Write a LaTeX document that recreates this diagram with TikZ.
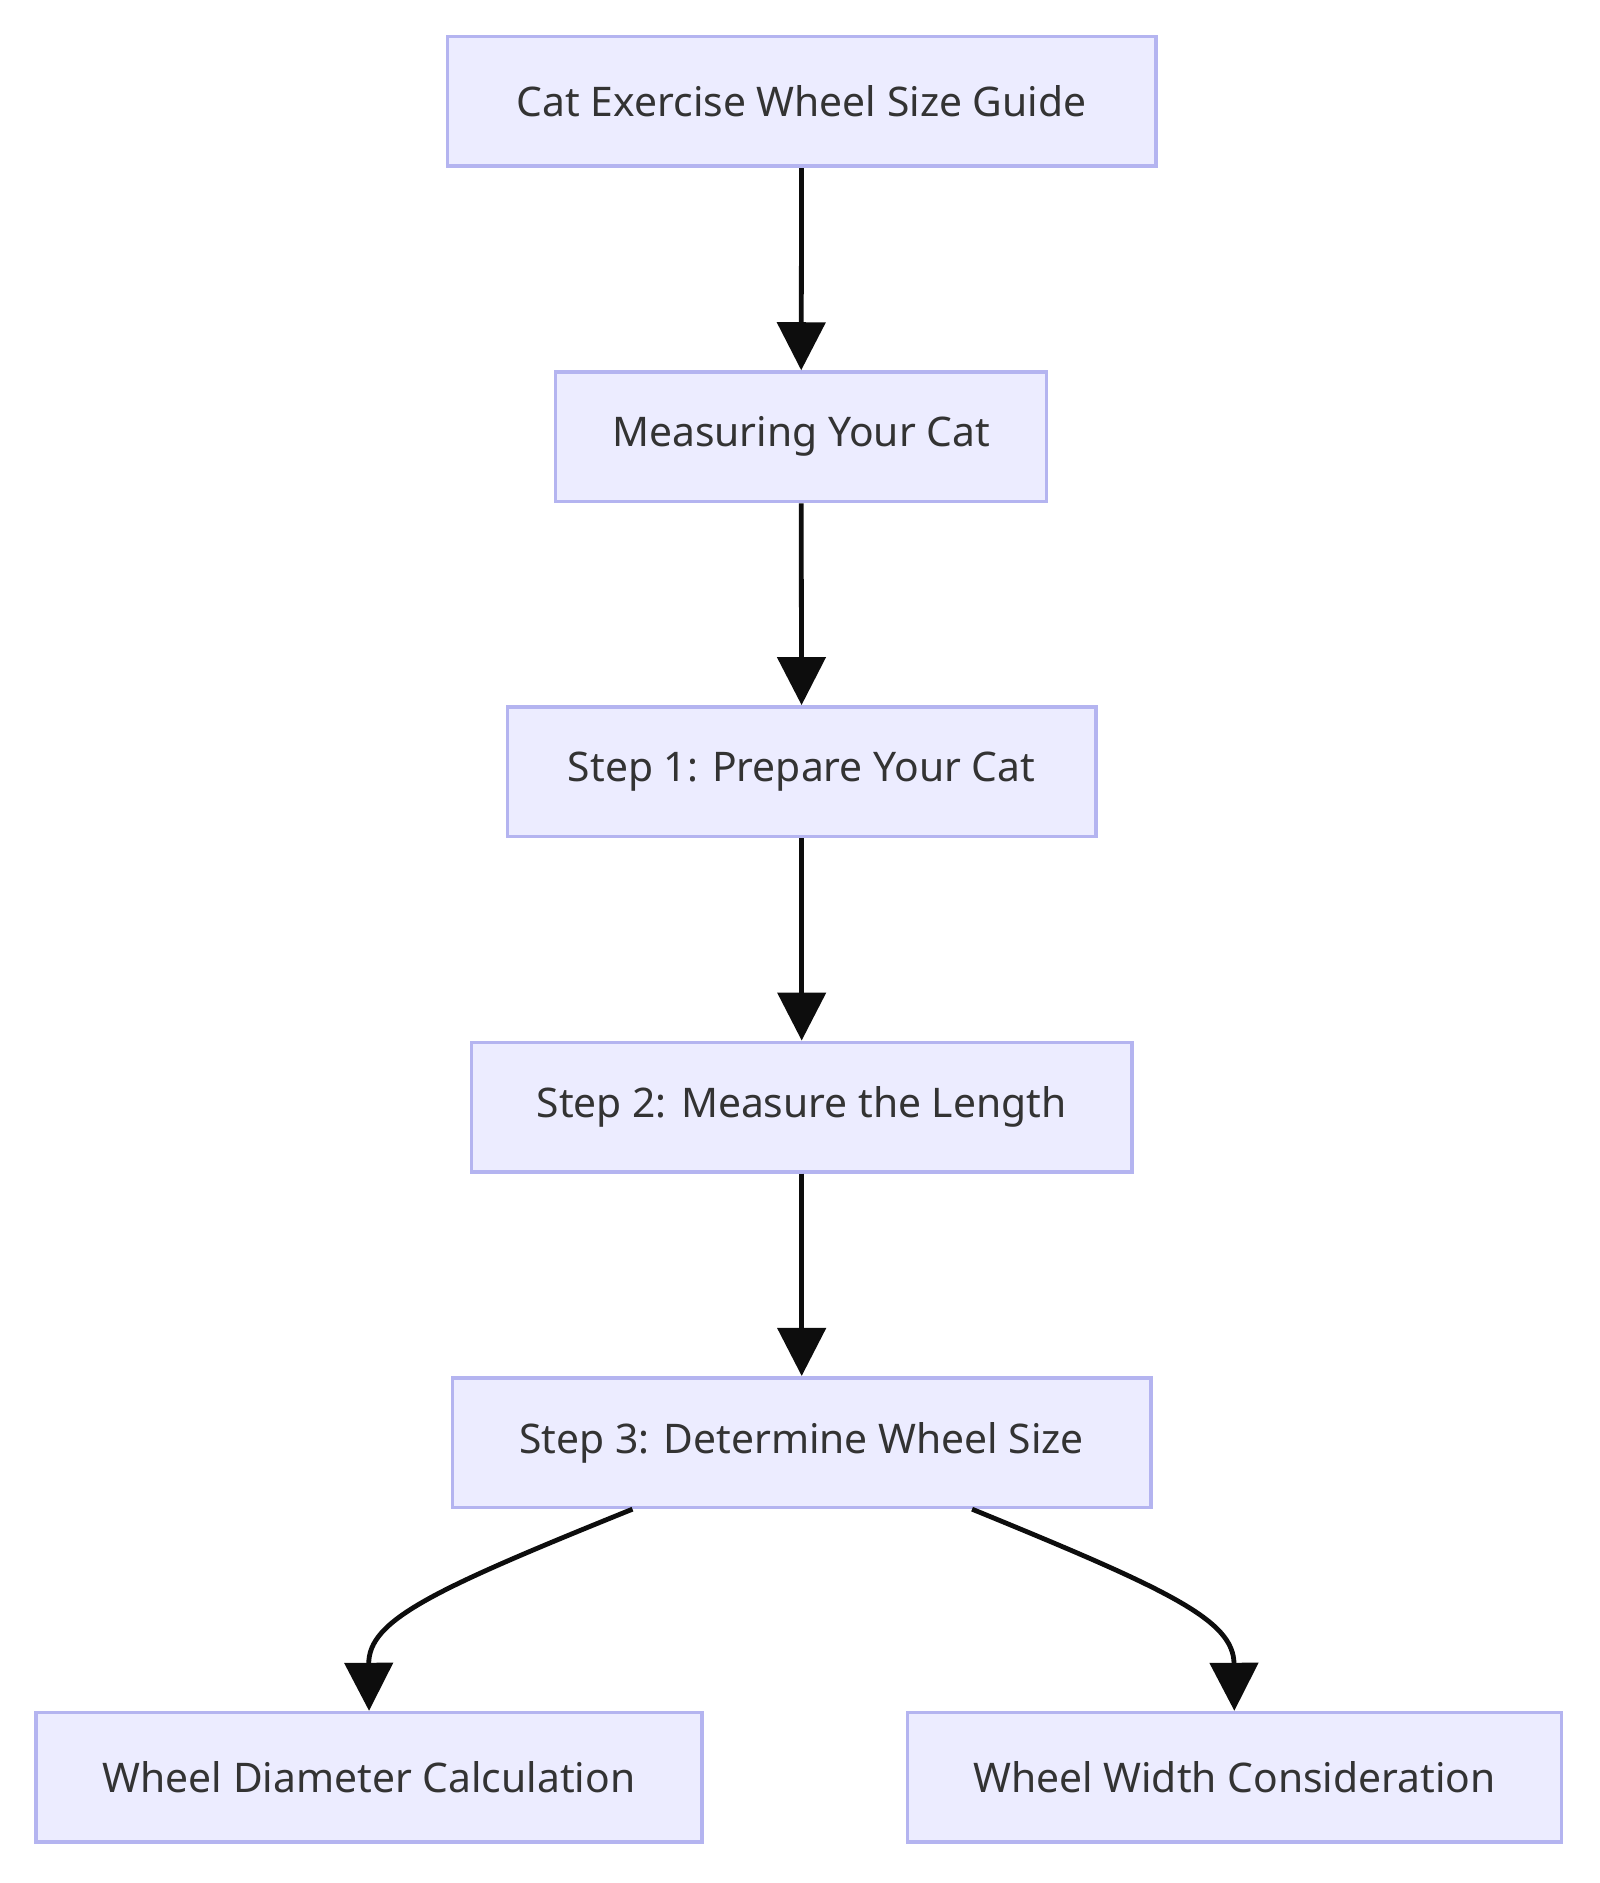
\documentclass[tikz,border=0pt]{standalone}
\usepackage{fontspec}
\setmainfont{Noto Sans}
\usetikzlibrary{arrows.meta,calc}
\definecolor{nfill}{HTML}{ECECFF}
\definecolor{nline}{HTML}{B4B4F0}
\definecolor{txt}{HTML}{333333}
\begin{document}
\begin{tikzpicture}[x=0.5pt,y=-0.5pt,
  box/.style={draw=nline,fill=nfill,line width=1.5pt,text=txt,font=\fontsize{17}{20}\selectfont,inner sep=0pt,minimum height=54pt},
  arr/.style={draw=black!95,line width=2pt,-{Triangle[length=20pt,width=20pt]}}]
\useasboundingbox (0,0) rectangle (1333,1569);
\node[box,minimum width=295pt] (n1) at (668,84.5) {Cat Exercise Wheel Size Guide};
\node[box,minimum width=204.5pt] (n2) at (667.5,364) {Measuring Your Cat};
\node[box,minimum width=245pt] (n3) at (668,643) {Step 1: Prepare Your Cat};
\node[box,minimum width=275pt] (n4) at (668,922.5) {Step 2: Measure the Length};
\node[box,minimum width=291pt] (n5) at (668,1202) {Step 3: Determine Wheel Size};
\node[box,minimum width=277.5pt] (n6) at (307.5,1481) {Wheel Diameter Calculation};
\node[box,minimum width=272.5pt] (n7) at (1028.5,1481) {Wheel Width Consideration};
\draw[arr] (n1) -- (n2);
\draw[arr] (n2) -- (n3);
\draw[arr] (n3) -- (n4);
\draw[arr] (n4) -- (n5);
\draw[arr] ($(n5.south)+(-141,0)$) .. controls (360,1325) and (307,1350) .. (n6.north);
\draw[arr] ($(n5.south)+(142,0)$) .. controls (975,1325) and (1028,1350) .. (n7.north);
\end{tikzpicture}
\end{document}
